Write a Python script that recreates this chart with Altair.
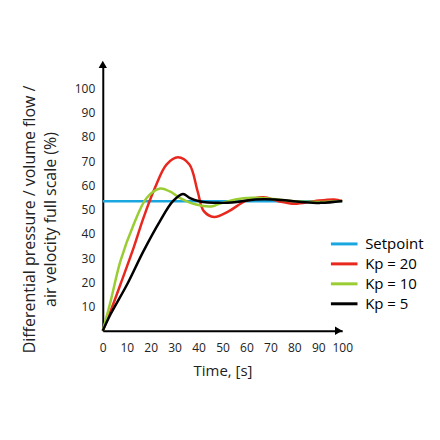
import pandas as pd
import altair as alt

# values (time in s, value in % of full scale)
series_names = ["Setpoint", "Kp = 20", "Kp = 10", "Kp = 5"]
series_colors = ["#1aa7e0", "#e8281e", "#9acd32", "#000000"]

setpoint_t = [0, 100]
setpoint_v = [53.5, 53.5]

kp20_t = [0, 3.3, 7.4, 12.9, 17, 21.8, 26.6, 31.4, 36.2, 39.6, 42.2, 46.5, 52.7, 59.5, 67.1, 73.3, 80.1, 88.4, 96.6, 100]
kp20_v = [0, 8.2, 19.2, 34.3, 46.6, 59, 68.6, 71.6, 68.6, 57.6, 49.4, 47.0, 49.4, 53.5, 55.1, 53.5, 52.4, 53.5, 54.2, 53.5]

kp10_t = [0, 3.3, 7.4, 12.9, 18.4, 23.9, 28, 32.1, 39, 45.8, 48.6, 55.4, 62.3, 69.1, 80, 90, 100]
kp10_v = [0, 12.3, 28.8, 43.9, 54.9, 58.7, 57.5, 54.9, 52.1, 51.4, 52.4, 54.2, 54.9, 54.6, 53.5, 53.2, 53.6]

kp5_t = [0, 3.3, 10.2, 17, 23.9, 29.3, 33.5, 36.2, 40.3, 48.6, 56, 63.7, 71.9, 82.8, 91, 100]
kp5_v = [0, 6.9, 19.2, 32.9, 45.3, 53.5, 56.5, 54.9, 53.5, 52.8, 53.2, 54.2, 54.2, 53.2, 52.8, 53.6]

x_ticks = [0, 10, 20, 30, 40, 50, 60, 70, 80, 90, 100]
y_ticks = [10, 20, 30, 40, 50, 60, 70, 80, 90, 100]

frames = []
for name, t, v in zip(series_names,
                      [setpoint_t, kp20_t, kp10_t, kp5_t],
                      [setpoint_v, kp20_v, kp10_v, kp5_v]):
    frames.append(pd.DataFrame({"time": t, "value": v, "series": name}))
df = pd.concat(frames, ignore_index=True)

# arrow heads at the ends of the two axes
arrows = pd.DataFrame({"time": [0, 98.5], "value": [110, 0],
                       "shape": ["triangle-up", "triangle-right"]})

x_scale = alt.Scale(domain=[0, 100], nice=False)
y_scale = alt.Scale(domain=[0, 110], nice=False)

x_axis = alt.Axis(values=x_ticks, title="Time, [s]", ticks=False, grid=False,
                  labelPadding=12, titlePadding=10, labelOverlap=False, labelFlush=False)
y_axis = alt.Axis(values=y_ticks, ticks=False, grid=False, labelPadding=8,
                  labelOverlap=False, labelFlush=False,
                  title=["Differential pressure  / volume flow /",
                         "air velocity full scale (%)"],
                  titleX=-65, titleY=155, titleLineHeight=21, titleFontSize=16)

lines = alt.Chart(df).mark_line(strokeWidth=2.5, interpolate="catmull-rom").encode(
    x=alt.X("time:Q", scale=x_scale, axis=x_axis),
    y=alt.Y("value:Q", scale=y_scale, axis=y_axis),
    color=alt.Color("series:N",
                    scale=alt.Scale(domain=series_names, range=series_colors),
                    legend=alt.Legend(title=None, orient="none", legendX=230, legendY=168,
                                      symbolType="M-1.3,0H1.3", symbolSize=420,
                                      symbolStrokeWidth=3, labelFontSize=15,
                                      labelOffset=9, rowPadding=0)),
    order=alt.Order("time:Q"),
)

heads = alt.Chart(arrows).mark_point(filled=True, color="black", size=70, opacity=1).encode(
    x=alt.X("time:Q", scale=x_scale, axis=x_axis),
    y=alt.Y("value:Q", scale=y_scale, axis=y_axis),
    shape=alt.Shape("shape:N", scale=None),
)

chart = alt.layer(lines, heads).properties(
    width=240,
    height=267,
    autosize=alt.AutoSizeParams(type="none"),
    padding={"left": 95, "top": 56, "right": 90, "bottom": 90},
).configure(
    font="Open Sans"
).configure_view(
    stroke=None
).configure_axis(
    domainColor="black",
    domainWidth=2,
    labelFontSize=12,
    labelColor="#222222",
    labelOverlap=False,
    titleFontSize=15,
    titleFontWeight="normal",
    titleColor="#222222",
)

chart.save("out.html", embed_options={"renderer": "svg", "actions": False})
